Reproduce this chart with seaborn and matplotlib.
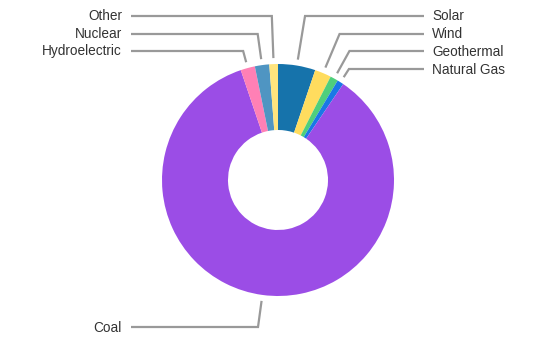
import numpy as np
import matplotlib
matplotlib.use("Agg")
import matplotlib.pyplot as plt
import seaborn as sns

categories = ["Solar", "Wind", "Geothermal", "Natural Gas", "Coal", "Hydroelectric", "Nuclear", "Other"]
values = [5.2, 2.3, 1.1, 0.9, 85.3, 2.0, 2.0, 1.2]
colors = ["#1673ab", "#ffdc5e", "#4fcf7c", "#1a78e6", "#9b4de6", "#ff80b5", "#4f95c2", "#ffe47d"]
# label row (pixels from top) for each category
label_rows = [16, 34, 51, 69, 327, 51, 34, 16]

sns.set_theme(style="white")
plt.rcParams['font.family'] = ['Liberation Sans', 'DejaVu Sans']

W, H = 551, 348
fig = plt.figure(figsize=(W / 100, H / 100), dpi=100)
ax = fig.add_axes([0, 0, 1, 1])

cx, cy = 278, H - 180
R, r_in = 116, 50
wedges, _ = ax.pie(values, center=(cx, cy), radius=R, startangle=90, counterclock=False,
                   colors=colors, wedgeprops=dict(width=R - r_in, linewidth=0), frame=True)
ax.set_xlim(0, W)
ax.set_ylim(0, H)
ax.axis("off")

line_col = "#999999"
for w, name, row in zip(wedges, categories, label_rows):
    ang = np.deg2rad((w.theta1 + w.theta2) / 2)
    ux, uy = np.cos(ang), np.sin(ang)
    x0, y0 = cx + (R + 6) * ux, cy + (R + 6) * uy
    ly = H - row
    t = (ly - cy) / uy
    kx = cx + t * ux
    right = ux >= 0
    ex = 424 if right else 131
    ax.plot([x0, kx, ex], [y0, ly, ly], color=line_col, lw=1.6, solid_capstyle="butt",
            solid_joinstyle="miter")
    if right:
        ax.text(ex + 8, ly - 0.5, name, ha="left", va="center", fontsize=9.8, color="#333333")
    else:
        ax.text(ex - 9, ly - 0.5, name, ha="right", va="center", fontsize=9.8, color="#333333")

fig.savefig("out.png", dpi=100, facecolor="white")
